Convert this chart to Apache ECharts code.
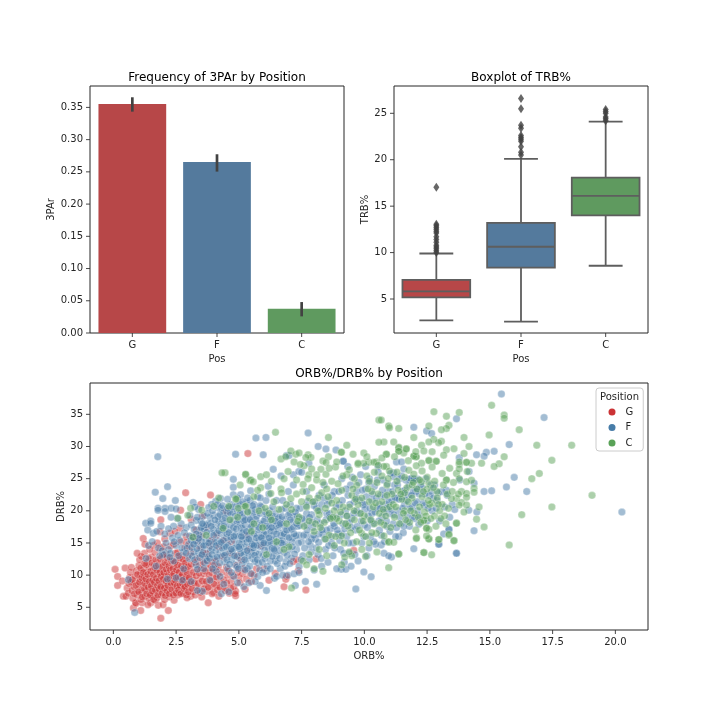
<!DOCTYPE html>
<html><head><meta charset="utf-8">
<style>html,body{margin:0;padding:0;background:#fff}#c{width:720px;height:720px}</style>
<script src="https://cdn.jsdelivr.net/npm/echarts@6/dist/echarts.min.js"></script>
</head><body><div id="c"></div>
<script>
const positions = ['G','F','C'];
const barColors = ['#b74748','#547a9d','#5f9a5f'];
const markerColors = ['#cb3335','#477ca8','#59a257'];
const rate3PAr = [0.3553,0.2654,0.0377];
const rateLow = [0.3434,0.2504,0.0258];
const rateHigh = [0.3657,0.2773,0.048];
const boxMin = [2.7,2.56,8.58];
const boxQ1 = [5.17,8.37,14.0];
const boxMedian = [5.82,10.63,16.1];
const boxQ3 = [7.07,13.2,18.08];
const boxMax = [9.9,20.1,24.1];
const outliersG = [10,10.2,10.4,10.6,10.8,11.1,11.4,11.7,12.1,12.3,12.5,12.7,12.9,13.05,17.04];
const outliersF = [20.5,20.8,21.4,22,22.2,22.4,22.6,23.4,23.7,25.5,26.6];
const outliersC = [24.2,24.4,24.6,25,25.2,25.4];
const ticksBarY = [0,0.05,0.1,0.15,0.2,0.25,0.3,0.35];
const ticksBoxY = [5,10,15,20,25];
const ticksScatterX = [0,2.5,5,7.5,10,12.5,15,17.5,20];
const ticksScatterY = [5,10,15,20,25,30,35];

const pointsG = [[0.07,10.9],[0.17,9.8],[0.17,8.4],[0.47,11.1],[0.36,9.1],[0.4,6.7],[0.5,6.7],[0.8,4.9],[0.9,5.6],[1.09,4.5],[1.89,3.3],[2.19,4.5],[1.79,5.3],[1.98,5.4],[1.15,5.7],[0.89,5.7],[1.49,5.7],[1.66,6.1],[3.78,5.7],[3.08,6.7],[4.87,6.8],[4.87,7.5],[6.8,8.2],[7.67,7.7],[6.87,9.35],[7.37,10.7],[7.17,12.1],[7.3,12.4],[8.07,12.5],[9.58,13.85],[5.36,28.9],[2.88,22.8],[3.87,22.45],[1.89,18.6],[2.68,20.1],[3.48,21],[1.19,15.7],[1.26,14.8],[4.49,19.9],[2.26,16.5],[1.86,16.75],[2.65,17.3],
[0.55,8],[0.6,7.2],[0.62,8.7],[0.65,9.6],[0.68,10.4],[0.72,11.2],[0.74,7.6],[0.78,6.4],[0.82,8.2],[0.85,9.1],[0.88,9.9],[0.92,10.7],[0.95,6.9],[0.98,7.7],[1,8.6],[1.02,11.5],[1.05,12.4],[1.06,9.4],[1.08,10.2],[1.1,6.2],[1.12,7.2],[1.16,8],[1.18,8.9],[1.2,11],[1.22,9.8],[1.24,13.4],[1.26,6.7],[1.28,7.6],[1.3,10.5],[1.32,8.4],[1.34,12],[1.36,9.2],[1.38,5.4],[1.4,6.4],[1.42,11.3],[1.44,7.2],[1.46,10],[1.48,8.8],[1.5,12.8],[1.52,7.9],[1.54,9.5],[1.56,6.7],[1.58,10.8],[1.6,8.3],[1.62,11.6],[1.64,7.2],[1.66,13.5],[1.68,9],[1.7,10.3],[1.72,8],[1.74,6.5],[1.76,12.2],[1.78,9.7],[1.8,7.4],[1.82,11],[1.84,8.6],[1.86,14.2],[1.88,10],[1.9,6.9],[1.92,9.2],[1.94,12.8],[1.96,7.9],[1.98,10.7],[2,8.4],[2.02,11.5],[2.04,6.2],[2.06,9.7],[2.08,7.2],[2.1,13.3],[2.12,8.8],[2.14,10.3],[2.16,12],[2.18,7.7],[2.2,9.2],[2.22,6.6],[2.24,11],[2.26,8.2],[2.28,14.5],[2.3,10],[2.32,7.2],[2.34,12.6],[2.36,9],[2.38,11.6],[2.4,8.4],[2.42,6.1],[2.44,10.5],[2.46,7.7],[2.48,13.4],[2.5,9.4],[2.52,11.2],[2.54,8],[2.56,6.9],[2.58,12.2],[2.6,10],[2.62,8.8],[2.64,7.3],[2.66,15.2],[2.68,11],[2.7,9.2],[2.72,13],[2.74,8.2],[2.76,10.5],[2.78,7.2],[2.8,12],[2.82,9.7],[2.84,8.6],[2.86,14.2],[2.88,11.4],[2.9,7.7],[2.92,10],[2.94,6.5],[2.96,12.8],[2.98,9.1],[3,8.2],[3.04,11],[3.08,13.5],[3.12,10],[3.16,7.4],[3.2,9.2],[3.24,12],[3.28,8.3],[3.32,10.8],[3.36,15.4],[3.4,7.8],[3.44,11.6],[3.48,9.5],[3.52,6.6],[3.56,13.3],[3.6,10.2],[3.64,8.6],[3.68,12.4],[3.72,7.5],[3.76,11],[3.8,9.3],[3.84,14.6],[3.88,8.2],[3.92,10.4],[3.96,12],[4,7.3],[4.04,9.4],[4.08,11.2],[4.12,8.4],[4.16,10.1],[4.2,6.7],[4.28,9],[4.36,12.8],[4.42,8],[4.5,11.2],[4.56,10],[4.62,7.2],[4.7,9],[4.8,8.2],[4.9,11.5],[5,9.6],[5.1,12.4],[5.15,10.2],[5.25,7.8],[5.4,14],[5.5,9],[5.7,11],[3.3,17],[3.7,17.5],[4.1,16.2],[4.4,15.4],[2.9,16],[3.1,18.7],[1.6,14.6],[2.05,15.6],[2.45,16.8],[3.55,19.2],[4.7,15.2],[5.3,16.2],[5.9,14.6],[6,11],[6.2,9.2],[6.45,10.3],[6.9,9.8],
[0.7,8.9],[0.76,9.3],[0.84,7.1],[0.9,8.4],[0.96,10.1],[1.01,7.4],[1.04,8.9],[1.09,11.1],[1.13,9.6],[1.15,6.6],[1.19,10.4],[1.23,7.9],[1.25,8.7],[1.29,9.4],[1.31,11.6],[1.33,7.1],[1.37,10.1],[1.39,8.1],[1.41,12.6],[1.43,9],[1.47,6.9],[1.49,10.6],[1.51,8.3],[1.53,11.9],[1.55,7.5],[1.57,9.2],[1.59,10.1],[1.61,6.2],[1.63,8.9],[1.65,11.1],[1.67,7.7],[1.69,12.4],[1.71,9.5],[1.73,10.8],[1.75,8.4],[1.77,6.9],[1.79,11.6],[1.81,9.1],[1.83,7.8],[1.85,10.4],[1.87,12.5],[1.89,8.2],[1.91,9.8],[1.93,11.3],[1.95,7.2],[1.97,13.1],[1.99,9.4],[2.01,10.4],[2.03,8],[2.05,11.9],[2.07,6.8],[2.09,9.1],[2.11,10.9],[2.13,7.6],[2.15,12.7],[2.17,8.4],[2.19,10],[2.21,11.4],[2.23,7.1],[2.25,9.4],[2.27,10.8],[2.29,8.8],[2.31,12.2],[2.33,7.8],[2.35,9.9],[2.37,11],[2.39,6.9],[2.41,10.2],[2.43,8.7],[2.45,12],[2.47,9.2],[2.49,7.2],[2.51,10.8],[2.53,8.3],[2.55,11.6],[2.57,9.7],[2.59,7.7],[2.61,10.4],[2.63,12.7],[2.65,8.4],[2.67,9.7],[2.69,7.1],[2.71,11.4],[2.73,10],[2.75,8.7],[2.77,12.5],[2.79,9.3],[2.81,7.9],[2.83,10.8],[2.85,8.2],[2.87,11.9],[2.89,9.6],[2.91,6.9],[2.93,10.4],[2.95,8.6],[2.97,11.3],[2.99,7.4],[3.02,9.6],[3.06,8.7],[3.1,11.7],[3.14,7.9],[3.18,10.4],[3.22,8.8],[3.26,6.9],[3.3,9.9],[3.34,12.6],[3.38,8.7],[3.42,10.3],[3.46,7.3],[3.5,11.1],[3.54,9.1],[3.58,12],[3.62,7.9],[3.66,10.6],[3.7,9],[3.74,13.2],[3.78,8.1],[3.82,10],[3.86,11.6],[3.9,9.1],[3.94,7.1],[3.98,10.8],[4.02,8.6],[4.06,12.2],[4.1,9.7],[4.14,7.7],[4.18,11.3],[4.24,8.1],[4.32,10.4],[4.4,9.3],[4.46,7.6],[4.52,8.8],[4.6,10.7],[4.68,8],[4.76,9.9],[4.85,7.1],[4.95,10.4],[5.05,8.8],[5.2,11],[5.3,9.4],[5.45,10.3],[5.6,10],[3.05,14.5],[2.55,13.5],[2,14.4],[3.45,14.3],[3.7,13.4],[1.25,11.8],[1.12,12.9],[0.95,13.4],[1.45,14],[1.75,15],[2.4,14.8],[2.9,15.1],[3.2,15.9],[3.5,16.2],[3.9,15.4],[4.2,14.4],[4.65,13.4],[4.95,13]];

const pointsF = [[15.46,38.16],[17.16,34.5],[20.26,19.8],[15.97,25.2],[15.77,30.3],[15.17,29.25],[14.86,29.1],[14.77,28.5],[14.47,28.7],[13.78,28.25],[13.67,34.3],[11.97,33],[12.48,32.4],[12.68,32],[15.66,23.7],[14.77,23],[15.07,23.1],[16.47,23],[14.37,24.3],[14.17,26.1],[14.16,20.1],[14.48,19.8],[14.37,16.9],[13.37,17.1],[13.16,16.4],[12.96,14.8],[11.97,14.1],[13.67,13.4],[11.08,12.8],[10.78,13.4],[10.67,14.7],[10.27,9.75],[1.77,28.4],[4.87,28.8],[2.16,23.75],[1.67,22.9],[1.97,21.9],[2.47,21.6],[1.78,20.4],[1.78,20.1],[2.06,20.4],[2.06,19.9],[2.3,20.4],[2.5,20.3],[3.18,21.3],[4.78,24.9],[4.78,23.65],[4.78,22.5],[4.27,21.9],[4.08,21.5],[3.92,21],[1.29,18.05],[1.49,18.4],[1.49,18.05],[1.37,17],[1.59,16.5],[1.73,16.8],[5.68,31.3],[6.08,31.4],[7.76,32.1],[5.97,28.7],[8.16,30],[8.47,29.6],[8.87,29.45],[9.16,27.7],[9.34,26.9],[6.37,26.45],[6.68,25.4],[7.17,25.6],[7.39,26.1],[7.5,26],[7.79,27.4],[6.9,28.6],[7,28.6],[6.17,23.8],[5.47,23.1],[5.07,22.5],[6.97,23],[7.17,24],[7.7,23],[6.08,21.6],[6.5,21.6],[6.75,21.6],[9.16,27.7],[11.28,27.6],[11.48,27.6],[11.57,26.5],[10.05,26.9],[10.55,26.9],[11.17,25.9],[11.17,25.3],[11.81,24.9],[11.9,24.8],[12.13,24.9],[12.05,23],[12.68,23],[11.53,22.2],[13.27,23.2],[13.8,24.8],[9.66,7.85],[9.98,10.5],[9.08,10.9],[9.26,10.9],[9.47,11.4],[10.97,13],[10.18,14.2],[13.67,13.4],[12.97,14.8],[11.37,16],[12.17,17.9],[13.37,17.1],
[0.85,4.2],[0.6,9.3],[1.4,14.6],[1.55,15.2],[1.8,14.2],[1.95,13.8],[2.1,15],[2.2,14],[2.35,15.8],[2.5,14.6],[2.65,15.4],[2.7,18],[2.8,13.6],[2.9,17.4],[3,14.8],[3.05,19.3],[3.15,16],[3.2,13.6],[3.3,18.5],[3.35,15],[3.4,20.2],[3.45,17],[3.5,14.2],[3.55,16],[3.6,19.2],[3.65,12.8],[3.7,15.2],[3.75,18],[3.8,20.5],[3.85,13.8],[3.9,16.6],[3.95,14.8],[4,19.3],[4.05,12.5],[4.1,17.8],[4.15,15.4],[4.2,20.4],[4.25,13.4],[4.3,16.4],[4.35,18.6],[4.4,14.4],[4.45,12],[4.5,17.2],[4.55,19.6],[4.6,15.4],[4.65,13.3],[4.7,21],[4.75,16.8],[4.8,18.4],[4.85,11.6],[4.9,14.4],[4.95,20],[5,16],[5.03,12.6],[5.06,18],[5.1,14.8],[5.14,19.6],[5.18,17],[5.22,13.6],[5.26,15.6],[5.3,21.2],[5.34,11],[5.38,18.8],[5.42,14.2],[5.46,16.6],[5.5,20],[5.54,12.6],[5.58,17.8],[5.62,15],[5.66,13.5],[5.7,19.2],[5.74,16.2],[5.78,11.8],[5.82,18],[5.86,14.4],[5.9,20.6],[5.94,16.8],[5.98,13],[6.02,15.4],[6.06,18.8],[6.1,10.6],[6.14,17.2],[6.18,14.2],[6.22,20],[6.26,12.2],[6.3,16],[6.34,18.2],[6.38,14.8],[6.42,9.5],[6.46,19.6],[6.5,13],[6.54,17.2],[6.6,15.4],[6.65,11],[6.7,20.2],[6.75,16.6],[6.8,13.5],[6.85,18.6],[6.9,14.8],[6.95,10],[7,17],[7.05,21],[7.1,12.6],[7.15,15.8],[7.2,19],[7.25,8.4],[7.3,14],[7.35,17.6],[7.4,11.4],[7.45,20.4],[7.5,15.2],[7.55,13],[7.6,18.6],[7.65,9],[7.7,16.2],[7.75,21.5],[7.8,12.4],[7.85,14.6],[7.9,19.4],[7.95,17.4],[8,10.8],[8.05,15.6],[8.1,20.4],[8.15,13.2],[8.2,22.4],[8.25,18],[8.3,11.4],[8.35,16.4],[8.4,24],[8.45,14],[8.5,19.6],[8.55,12],[8.6,21.6],[8.65,17.2],[8.7,15],[8.75,13],[8.8,23],[8.85,19],[8.9,11],[8.95,16.4],[9,21],[9.05,14],[9.1,25],[9.15,18],[9.2,12],[9.25,20],[9.3,16],[9.35,22.4],[9.4,13.4],[9.45,24],[9.5,18.8],[9.55,15],[9.6,21.4],[9.65,17],[9.7,23],[9.75,12.2],[9.8,19.6],[9.85,25.6],[9.9,15],[9.95,21],[10,17.8],[10.05,23.4],[10.1,13],[10.15,19.2],[10.2,25],[10.25,16],[10.3,21.6],[10.35,18],[10.4,23.8],[10.45,14.8],[10.5,20.4],[10.55,26],[10.6,17],[10.65,22.4],[10.7,19],[10.75,24.8],[10.8,15.2],[10.85,21],[10.9,17.6],[10.95,23],[11,19.6],[11.05,25.8],[11.1,21.6],[11.15,18],[11.2,24],[11.25,16],[11.3,22],[11.35,20],[11.4,25],[11.45,18],[11.5,23],[11.55,16.6],[11.6,21],[11.65,24.8],[11.7,19.4],[11.75,22.4],[11.8,17.6],[11.85,25],[11.9,20.6],[11.95,23],[12,18.8],[12.05,24.8],[12.1,21.4],[12.2,19.2],[12.3,23.6],[12.4,20.8],[12.45,25],[12.5,18.4],[12.6,22.4],[12.7,20],[12.8,24],[12.9,21.6],[13,18.4],[13.1,23],[13.2,20.6],[13.3,22.4],[13.4,19],[13.5,21],[13.6,20.2],[2.55,18.8],[2.4,17.6],[2.3,19],[2.2,17.2],[2.05,16.4],[1.9,17.6],[3.1,17.8],[3.25,20.6],[3.6,17.6],[3.85,19],[4.3,20.4],[4.55,21.8],[4.95,22],[5.2,20.6],[5.45,21.6],[5.6,21],[5.75,22.2],[5.85,22],[6.2,22.6],[5.05,21],[4.6,20.6],[4.4,19.8],[4.2,18.4],[4.75,19.8],[4.9,18],[5.1,17.4],[5.35,16.2],[5.55,19.4],[5.15,15.6],[4.8,15.4],[4.5,15.8],[4.35,17],[4.65,17.8],[5.2,13.2],[5.5,13.6],[5.8,15.4],[6,16.4],[6.2,17.4],[6.4,16.8],[6.6,19],[6.35,20.6],[6.7,18.2],[7.05,19.6],[7.3,20.4],[7.7,19.6],[8,20.8],[8.3,21],[8.6,19.6],[7.4,16.2],[7.7,17.8],[7.9,15.6],[8.2,16.4],[8.5,17],[8.8,17.6],[9.1,16.4],[9.4,18.2],[9.7,20],[10,21],[10.3,19.6],[10.6,21],[10.9,20.4],[4.55,11],[4.8,9.8],[4.1,10.6],[3.3,11.6],[3.6,11],[2.8,11],[2.4,12.2],[1.7,11.4],[1.3,12.6],[2.5,9.6],[3.1,9],[3.55,7.5],[3.85,9.2],[4.3,7.1],[4.4,8.6],[5.2,8.2],[5.85,8.4],[6.1,7.6],[8.1,8.6],[7.2,10.2],[7.4,10.4],[4.6,7.4],
[2.02,13.2],[2.27,13.4],[2.42,15.2],[2.58,16.2],[2.73,14.2],[2.83,16.6],[2.93,14.2],[3.03,16.1],[3.12,14.3],[3.22,17.1],[3.28,15.3],[3.38,13.4],[3.42,16.2],[3.48,18.4],[3.52,15.2],[3.58,13.6],[3.62,17.1],[3.68,14.6],[3.72,16.7],[3.78,12.9],[3.82,15.6],[3.88,18.1],[3.92,14.1],[3.98,17.1],[4.02,15.2],[4.08,13.8],[4.12,16.5],[4.18,19.1],[4.22,14.9],[4.28,17.6],[4.32,12.9],[4.38,15.4],[4.42,18.1],[4.48,13.4],[4.52,16.4],[4.58,14.6],[4.62,18.6],[4.68,15.9],[4.72,12.4],[4.78,17.4],[4.82,14.2],[4.88,16.2],[4.92,12.9],[4.98,18.6],[5.02,15],[5.08,13.4],[5.12,16.6],[5.16,19],[5.2,14.4],[5.24,17.8],[5.28,12.2],[5.32,15.1],[5.36,19.9],[5.4,13],[5.44,17.3],[5.48,15.4],[5.52,18.3],[5.56,14.2],[5.6,16.4],[5.64,12.1],[5.68,18.7],[5.72,14.6],[5.76,17.1],[5.8,13.3],[5.84,19.6],[5.88,15.9],[5.92,17.9],[5.96,14.8],[6,18.4],[6.04,12.6],[6.08,16.3],[6.12,19.4],[6.16,15],[6.2,13.3],[6.24,18.4],[6.28,16.8],[6.32,14.2],[6.36,19.2],[6.4,15.6],[6.44,12.2],[6.48,17.6],[6.52,14.7],[6.56,18.8],[6.62,13.8],[6.68,16.2],[6.72,19.1],[6.78,14.7],[6.82,17.6],[6.88,12.1],[6.92,16],[6.98,19.4],[7.02,14],[7.08,18.2],[7.12,15.2],[7.18,17.4],[7.22,13.3],[7.28,16.1],[7.32,19.2],[7.38,15],[7.42,17.7],[7.48,12.4],[7.52,18.8],[7.58,16.2],[7.62,14.2],[7.68,20.8],[7.72,17],[7.78,15.2],[7.82,19],[7.88,13.6],[7.92,18.2],[7.98,16.2],[8.02,21.4],[8.08,14.2],[8.12,18.6],[8.18,15.1],[8.22,20],[8.28,12.6],[8.32,17],[8.38,22],[8.42,15.6],[8.48,18.6],[8.52,21],[8.58,14.6],[8.62,19],[8.68,16],[8.72,22.4],[8.78,18],[8.82,14.2],[8.88,20.6],[8.92,17],[8.98,23],[9.02,15.4],[9.08,19.4],[9.12,21.6],[9.18,13.4],[9.22,17.2],[9.28,23.4],[9.32,19.2],[9.38,15],[9.42,21],[9.48,17.4],[9.52,25.2],[9.58,19.6],[9.62,13.2],[9.68,22],[9.72,17.6],[9.78,24.4],[9.82,21.6],[9.88,18.4],[9.92,23.2],[9.98,16],[10.02,20.2],[10.08,22.2],[10.12,17.4],[10.18,24.4],[10.22,20.4],[10.28,18.4],[10.32,22.6],[10.38,15.2],[10.42,19.8],[10.48,22],[10.52,24.8],[10.58,18.4],[10.62,20.4],[10.68,16.2],[10.72,23.2],[10.78,19.8],[10.82,22.2],[10.88,18.4],[10.92,24.2],[10.98,21.4],[11.02,16.8],[11.08,20.2],[11.12,23],[11.18,19.4],[11.22,22],[11.28,17.4],[11.32,24],[11.38,21.8],[11.42,19],[11.48,25.4],[11.52,20.4],[11.58,17.6],[11.62,23.2],[11.68,21.6],[11.72,18.4],[11.78,24],[11.82,20.4],[11.88,22.4],[11.92,19],[11.98,25],[12.02,21.2],[12.08,23.4],[12.12,20],[12.18,22.6],[12.25,24],[12.35,21.2],[12.42,22.6],[12.55,20.4],[12.65,24],[12.75,22],[12.85,20.4],[12.95,22.8],
[3.02,12.6],[3.13,13],[3.24,12.4],[3.33,14.1],[3.44,12.7],[3.53,13.2],[3.63,11.9],[3.73,12.2],[3.83,12.6],[3.93,13.2],[4.03,11.6],[4.13,12.8],[4.23,11.9],[4.33,14.2],[4.43,13.1],[4.53,12.4],[4.63,11.7],[4.73,13.7],[4.83,13],[4.93,11.3],[5.03,14.1],[5.13,11.7],[5.23,12.4],[5.33,13.8],[5.43,11.4],[5.53,14.8],[5.63,13.1],[5.73,12.4],[5.83,10.8],[5.93,12],[6.03,13.9],[6.13,11.4],[6.23,15.2],[6.33,12.9],[6.43,13.8],[6.53,11.8],[6.63,12.6],[6.73,15.4],[6.83,11.4],[6.93,13.1],[7.03,11.8],[7.13,14.4],[3.1,15.4],[3.2,14.8],[3.3,16.4],[3.4,15.7],[3.5,17.4],[3.6,14.6],[3.7,17.8],[3.8,15],[3.9,17.6],[4,16.2],[4.1,14.6],[4.2,16.9],[4.3,15.1],[4.4,17.6],[4.5,14.4],[4.6,16.6],[4.7,14],[4.8,16],[4.9,17.2],[5,14.4],[5.1,16],[5.2,18.4],[5.3,16.8],[5.4,15.6],[5.5,17.6],[5.6,14.6],[5.7,15.8],[5.8,17.4],[5.9,15.8],[6,15],[6.1,17.6],[6.2,15.8],[6.3,17.4],[6.4,14],[6.5,16.4],[6.6,17.8],[6.7,15],[6.8,16.4],[6.9,17],[7,15.8],[7.1,17.2],[7.2,16.4],[7.3,18],[4.05,18.6],[4.25,19.4],[4.45,18.9],[4.65,19.7],[4.85,19.2],[5.05,19.6],[5.25,18.6],[5.45,18.6],[5.65,20.2],[5.85,20.8],[6.05,19.8],[6.25,19],[6.45,18.4],[6.65,18],[6.85,20.4],[7.05,18.6],[7.25,19.8],[3.35,19],[3.55,18],[3.75,19.6],[3.95,20],[4.15,21],[4.35,20.8],[4.55,20.4],[4.75,20.6],[4.95,21],[5.15,21.4],[5.35,22],[5.55,20.8],[4.7,10.4],[4.98,11],[5.25,10.8],[5.5,10.2],[5.75,9.8],[5.95,10.4],[6.25,11],[6.5,9.8],[6.75,10],[4.95,8.8],[5.4,8.8],[5.65,9],[3.35,10.9],[3.95,11],[2.6,13],[2.9,13.4],[2.25,12.8],[1.85,13],[3.35,7.6],[2.15,9.4],[2.75,9.2],[4.25,9.8]];

const pointsC = [[15.07,36.4],[15.57,34.9],[15.57,34.4],[16.17,32.6],[14.97,31.8],[16.87,30.2],[18.26,30.2],[15.57,28.4],[17.47,27.85],[15.37,27.3],[15.17,26.9],[14.67,27.4],[16.97,25.8],[16.67,25],[19.07,22.4],[17.47,20.6],[16.27,19.4],[15.77,14.7],[14.77,17.5],[14.57,20.6],[14.47,18.7],[12.77,35.4],[13.27,34.7],[13.78,35.3],[13.37,33.3],[13.27,32.8],[13.07,32.6],[12.57,33.2],[13.97,31.4],[14.17,30],[13.07,30.8],[12.96,30.6],[12.77,31.1],[12.57,30.7],[12.28,30.2],[11.97,31.4],[11.17,30.7],[10.78,30.7],[10.58,30.65],[11.37,32.8],[10.97,33.2],[10.58,34.1],[10.67,34.1],[11.37,29.9],[11.67,29.65],[11.37,29.3],[11.57,29],[12.37,29.3],[13.27,29.5],[13.57,29.65],[13.16,28.65],[13.97,28.9],[12.57,27.85],[12.85,27.7],[11.97,28.5],[12.05,28.4],[10.87,28.8],[14.07,27.5],[14.27,27.4],[13.78,27.25],[13.67,25.8],[13.78,25],[14.27,24.75],[14.07,24.5],[13.27,24.8],[14.37,23.5],[14.37,22.9],[13.87,23],[14.07,22.7],[14.07,22.1],[13.67,21.9],[13.47,21.9],[13.87,21.3],[13.78,20.9],[14.07,20.9],[13.97,19.8],[13.67,18.1],[13.57,15.4],[13.37,16.2],[12.68,13.15],[12.37,13.5],[11.37,13.3],[10.97,11.15],[10.97,15.1],[12.57,15.66],[12.08,15.8],[12.37,18.5],[12.48,17.3],[12.57,17.1],[12.96,15.5],
[4.45,25.9],[4.33,25.9],[5.27,25.6],[2.97,19.3],[2.57,18.85],[3.08,20.4],[3.52,20.1],[4.87,21.9],[4.98,20.4],[5.24,20.7],[4.37,17.3],[5.44,24.7],[3.17,15.9],[6.46,32.2],[8.57,31.4],[6.68,28.05],[6.87,28.4],[7.07,29.3],[7.27,28.8],[7.4,29],[7.76,28.7],[7.87,28.3],[7.67,28.3],[8.57,28.4],[8.35,27.75],[8.47,27.5],[9.07,29.1],[7.6,27],[8.27,26.45],[7.79,25.6],[7.9,26.5],[8.47,25.7],[6.96,26.1],[5.27,25.7],[5.48,24.8],[5.57,24.5],[5.87,25.3],[5.87,23.6],[5.75,23.2],[6.27,22.7],[6.68,23.4],[7.56,24.1],[7.07,21.9],[4.89,21.8],[5.27,20.7],[9.75,27.25],[9.98,29],[9.09,29.1],[10.88,28.8],[11.37,29.8],[11.67,29.6],[11.37,29.25],[10.88,26.9],[10.48,27.6],[10.18,27.55],[9.98,27.4],[9.75,27.4],[10.38,27.55],[10.55,27.1],[10.78,26.9],[12.07,28.4],[11.97,28.5],[12.57,27.8],[12.87,27.7],[12.28,27.4],[12.07,27],[13.27,24.8],[13.78,27.6],[13.78,26.5],[14.1,26.1],[14.07,27.55],[11.77,26.3],[11.97,25.7],[12.28,24.5],[12.57,24.3],[11,32.9],[10.05,12.9],[11.37,13.3],[12.37,13.5],[10.97,15.2],[11.17,15.1],[12.07,15.7],[12.57,15.6],[12.48,16.1],[13.57,15.35],[13.37,16.35],[12.97,15.55],[13.67,18.05],[12.37,18.5],[12.48,17.3],[10.78,16.1],[10.48,16.5],[10.3,16.6],[9.89,16.5],[9.09,16.1],[9.69,15.2],[9.22,12.8],[9.5,13],
[3.7,16.2],[4.6,20.7],[4.2,22],[4.95,19],[5.35,19.8],[5.6,22.2],[6.05,20.4],[5.6,18],[5.95,17.4],[6.3,18.6],[6.6,20.2],[6.9,21],[6.5,15.2],[7,14.4],[6.1,13.2],[6.8,14],[7.3,22.6],[7.5,21.4],[7.7,20.6],[7.9,23.6],[8.1,24.8],[8.3,22.8],[8.5,23.4],[8.7,24.6],[8.9,21.6],[9.1,23.2],[9.3,25.6],[9.5,22.4],[9.7,24],[9.9,22],[10.1,25.4],[10.3,23],[10.5,24.4],[10.7,21.4],[10.9,24],[11.1,22.6],[11.3,24.6],[11.5,21.8],[11.7,23.6],[11.9,22],[12.1,23.4],[12.3,22.2],[12.5,23.4],[12.7,21.2],[12.9,23],[13.1,21],[13.3,22.6],[13.5,23],[7.4,19],[7.6,17.6],[7.8,18.4],[8,16.8],[8.2,19.4],[8.4,18.2],[8.6,16.2],[8.8,20],[9,18.4],[9.2,15],[9.4,20.6],[9.6,18.6],[9.8,17],[10,19.2],[10.2,21.4],[10.4,18],[10.6,19.6],[10.8,17.8],[11,20.6],[11.2,19],[11.4,18],[11.6,20],[11.8,18.2],[12,19.6],[12.2,20.6],[12.4,19.8],[12.6,21],[12.8,19.2],[13,20],[13.2,19.2],[8.2,14],[8.5,13],[8.8,14.6],[9.1,11.6],[9.4,13.6],[9.9,14],[10.2,15],[10.5,13.6],[8,11],[8.35,10.6],[7.8,13.2],[7.55,12.2],[7.1,8],[7.7,11.6],[9.6,20],[9.3,19.2],[8.9,18.8],[8.7,21.2],[8.45,20.4],[8.15,22],[7.8,22],[10.4,26],[10.2,24.6],[10.7,25.4],[11,26.2],[11.3,26],[11.6,25.2],[11.9,24],[12.2,24.8],[12.5,25.2],[12.8,24.6],[9.4,26.4],[8.85,26.8],[9.15,25.4],[8.6,26.6],[8.1,25.6],[7.3,24.8],[6.8,25],[6.3,24.6],[10.9,22.4],[11.6,22.8],[12.9,22],
[6.9,18],[7.1,20.2],[7.35,18.4],[7.55,23],[7.75,25],[7.95,21.4],[8.15,20],[8.35,24.4],[8.55,22.2],[8.75,19],[8.95,24.2],[9.15,20.6],[9.35,17.6],[9.55,23.4],[9.75,21],[9.95,18.4],[10.15,23.4],[10.35,20.6],[10.55,22.6],[10.75,20.2],[10.95,25],[11.15,21],[11.35,23.2],[11.55,19.6],[11.75,21.4],[11.95,24.4],[12.15,19],[12.35,23],[12.55,21.6],[12.75,23.6],[12.95,21],[13.15,24],[13.35,20.4],[13.55,24.4],[13.75,22.6],[8.05,18],[8.25,17.4],[8.45,15.6],[8.65,18.8],[8.85,16],[9.05,19.8],[9.25,18],[9.45,16.6],[9.65,21.8],[9.85,19.6],[10.05,16],[10.25,18.6],[10.45,21.2],[10.65,18.2],[10.85,19.2],[11.05,17.4],[11.25,20.6],[11.45,22.6],[11.65,18.6],[11.85,20],[12.05,17],[12.25,18.2],[12.45,19.2],[12.65,18.8],[12.85,17.6],[13.05,18.8],[13.25,18],[6.4,21.4],[6.2,19.6],[5.8,20],[5.5,16.8],[4.65,18.6],[4,20.7],[6.7,22.8],[6.1,25.6],[5.05,24],[7.2,27.6],[7.45,27.2],[8.9,27.6],[9.6,25],[10.1,28.4],[10.7,28.2],[11.2,28.4],[11.75,27.8],[12.3,26.2],[12.7,26.8],[13.1,25.8],[13.4,26.6],[12.05,29.2],[12.7,29.2],[9.55,28.8],[9.3,30.2]];

const fontFamily = '"DejaVu Sans", sans-serif';
const ink = '#262626';
const boxLine = '#5e5e5e';
const barYMax = 0.3832, boxYMin = 1.34, boxYMax = 27.94;
const scatXMin = -0.93, scatXMax = 21.3, scatYMin = 1.47, scatYMax = 39.87;

function baseAxis(extra){
  return Object.assign({
    axisLine:{show:false,onZero:false},
    axisTick:{show:false},
    nameMoveOverlap:false,
    nameTextStyle:{color:ink,fontSize:10,fontFamily},
    nameLocation:'middle',
    splitLine:{show:false}
  },extra);
}
const catAxis = (gridIndex)=>baseAxis({type:'category',gridIndex,data:positions,name:'Pos',nameGap:21,
  axisLabel:{color:ink,fontSize:10,fontFamily,margin:7}});

const boxData = positions.map((_,i)=>[i,boxMin[i],boxQ1[i],boxMedian[i],boxQ3[i],boxMax[i]]);
const outlierData = [...outliersG.map(v=>[0,v]),...outliersF.map(v=>[1,v]),...outliersC.map(v=>[2,v])];

const scatterSeries = [pointsG,pointsF,pointsC].map((d,i)=>({
  name:positions[i],type:'scatter',xAxisIndex:2,yAxisIndex:2,data:d,symbolSize:7.5,
  itemStyle:{color:markerColors[i],opacity:0.5,borderColor:'#fff',borderWidth:0.6},emphasis:{disabled:true}
}));

function tickSeries(axisIdx, points, horizontal, fromBandEdge){
  return {
    type:'custom',xAxisIndex:axisIdx,yAxisIndex:axisIdx,clip:false,silent:true,z:6,encode:{x:0,y:1},data:points,
    renderItem:(p,api)=>{
      const c=api.coord([api.value(0),api.value(1)]);
      const x=fromBandEdge?c[0]-api.size([1,0])[0]/2:c[0];
      const shape=horizontal?{x1:x,y1:c[1],x2:x,y2:c[1]+4}:{x1:x-4,y1:c[1],x2:x,y2:c[1]};
      return {type:'line',shape,style:{stroke:'#333',lineWidth:0.9}};
    }
  };
}

const titleStyle = {fontSize:12,fontWeight:'normal',color:'#000',fontFamily};
const option = {
  animation:false,backgroundColor:'#fff',
  textStyle:{fontFamily},
  title:[
    {text:'Frequency of 3PAr by Position',left:212,top:67,textAlign:'center',textStyle:titleStyle},
    {text:'Boxplot of TRB%',left:516,top:67,textAlign:'center',textStyle:titleStyle},
    {text:'ORB%/DRB% by Position',left:364,top:363,textAlign:'center',textStyle:titleStyle},
    {text:'Position',left:614.5,top:387,textAlign:'center',z:10,textStyle:{fontSize:10,fontWeight:'normal',color:ink,fontFamily}}
  ],
  grid:[
    {left:90,top:86,width:254,height:247,show:true,borderColor:ink,borderWidth:1,backgroundColor:'transparent'},
    {left:394,top:86,width:254,height:247,show:true,borderColor:ink,borderWidth:1,backgroundColor:'transparent'},
    {left:90,top:383,width:558,height:247,show:true,borderColor:ink,borderWidth:1,backgroundColor:'transparent'}
  ],
  xAxis:[
    catAxis(0),catAxis(1),
    baseAxis({type:'value',gridIndex:2,min:scatXMin,max:scatXMax,name:'ORB%',nameGap:21,
      axisLabel:{color:ink,fontSize:10,fontFamily,margin:7,customValues:ticksScatterX,formatter:v=>v.toFixed(1)}})
  ],
  yAxis:[
    baseAxis({type:'value',gridIndex:0,min:0,max:barYMax,name:'3PAr',nameGap:34,
      axisLabel:{color:ink,fontSize:10,fontFamily,margin:7,customValues:ticksBarY,formatter:v=>v.toFixed(2)}}),
    baseAxis({type:'value',gridIndex:1,min:boxYMin,max:boxYMax,name:'TRB%',nameGap:24,
      axisLabel:{color:ink,fontSize:10,fontFamily,margin:7,customValues:ticksBoxY}}),
    baseAxis({type:'value',gridIndex:2,min:scatYMin,max:scatYMax,name:'DRB%',nameGap:24,
      axisLabel:{color:ink,fontSize:10,fontFamily,margin:7,customValues:ticksScatterY}})
  ],
  legend:{
    left:596,top:388,orient:'vertical',data:positions,
    padding:[19,10,3,12.5],itemWidth:7,itemHeight:7,itemGap:5.5,
    backgroundColor:'rgba(255,255,255,0.8)',borderColor:'#ccc',borderWidth:1,borderRadius:3,
    icon:'circle',selectedMode:false,
    itemStyle:{opacity:1,borderWidth:0},
    textStyle:{color:ink,fontSize:10,fontFamily,padding:[0,0,0,5]}
  },
  series:[
    {type:'bar',xAxisIndex:0,yAxisIndex:0,barWidth:'80%',
     data:rate3PAr.map((v,i)=>({value:v,itemStyle:{color:barColors[i]}})),emphasis:{disabled:true}},
    {type:'custom',xAxisIndex:0,yAxisIndex:0,z:5,encode:{x:0,y:[1,2]},
     data:positions.map((_,i)=>[i,rateLow[i],rateHigh[i]]),
     renderItem:(p,api)=>{
       const a=api.coord([api.value(0),api.value(1)]),b=api.coord([api.value(0),api.value(2)]);
       return {type:'line',shape:{x1:a[0],y1:a[1],x2:b[0],y2:b[1]},style:{stroke:'#424242',lineWidth:2.7}};
     }},
    {type:'custom',xAxisIndex:1,yAxisIndex:1,encode:{x:0,y:[1,2,3,4,5]},data:boxData,
     renderItem:(p,api)=>{
       const i=api.value(0),cx=api.coord([i,0])[0],w=api.size([1,0])[0]*0.8;
       const y=k=>api.coord([i,api.value(k)])[1];
       const st={stroke:boxLine,lineWidth:1.8};
       const ln=(x1,y1,x2,y2)=>({type:'line',shape:{x1,y1,x2,y2},style:st});
       return {type:'group',children:[
         ln(cx,y(1),cx,y(2)),ln(cx,y(4),cx,y(5)),
         ln(cx-w/4,y(1),cx+w/4,y(1)),ln(cx-w/4,y(5),cx+w/4,y(5)),
         {type:'rect',shape:{x:cx-w/2,y:y(4),width:w,height:y(2)-y(4)},style:{fill:barColors[i],stroke:boxLine,lineWidth:1.8}},
         ln(cx-w/2,y(3),cx+w/2,y(3))
       ]};
     }},
    {type:'scatter',xAxisIndex:1,yAxisIndex:1,data:outlierData,symbol:'diamond',symbolSize:[6,9],
     itemStyle:{color:'#414141'},emphasis:{disabled:true}},
    ...scatterSeries,
    tickSeries(0,positions.map((_,i)=>[i,0]),true,false),
    tickSeries(1,positions.map((_,i)=>[i,boxYMin]),true,false),
    tickSeries(2,ticksScatterX.map(v=>[v,scatYMin]),true,false),
    tickSeries(0,ticksBarY.map(v=>[0,v]),false,true),
    tickSeries(1,ticksBoxY.map(v=>[0,v]),false,true),
    tickSeries(2,ticksScatterY.map(v=>[scatXMin,v]),false,false)
  ]
};
const chart = echarts.init(document.getElementById('c'),null,{renderer:'canvas'});
chart.setOption(option);
</script></body></html>
